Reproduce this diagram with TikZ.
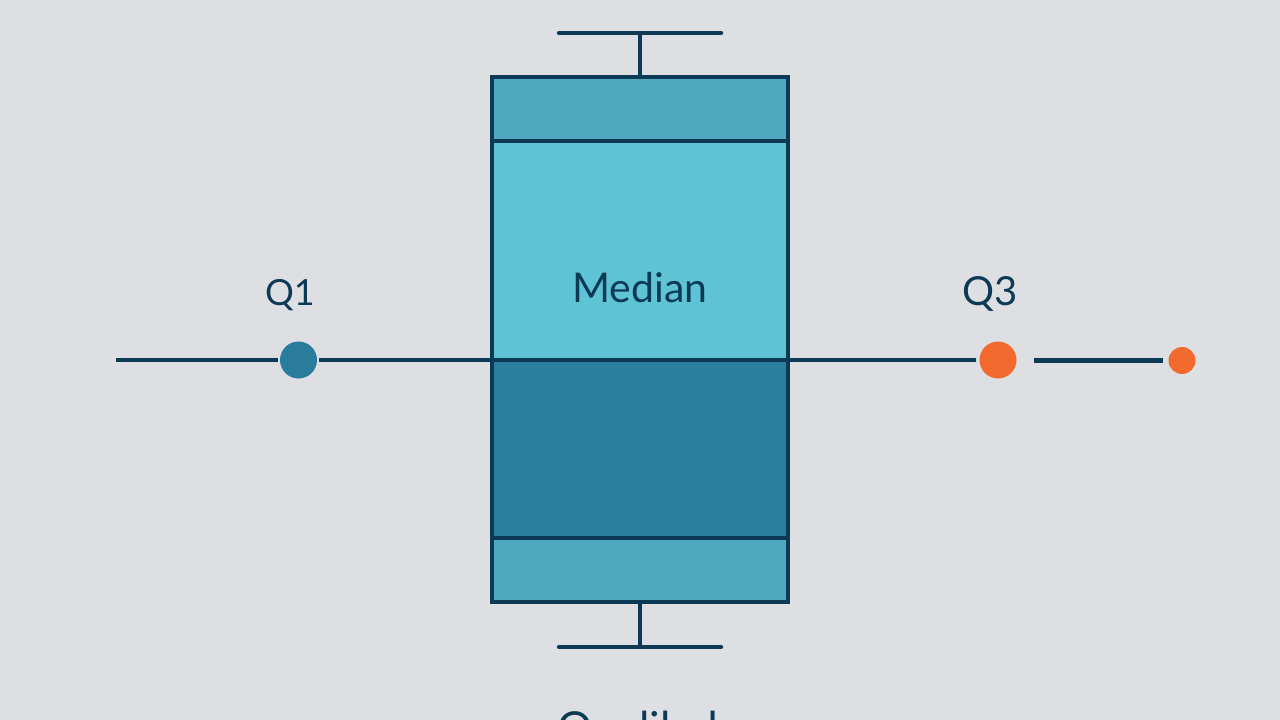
\documentclass[tikz,border=0pt]{standalone}
\usepackage{fontspec}
\setmainfont{Lato}
\definecolor{bgc}{HTML}{DEDFE3}
\definecolor{ink}{HTML}{0C3A55}
\definecolor{boxA}{HTML}{4FA8C0}
\definecolor{boxB}{HTML}{5FC3D6}
\definecolor{boxC}{HTML}{2B7F9F}
\definecolor{dotB}{HTML}{2A7C9C}
\definecolor{dotO}{HTML}{F26A2E}
\tikzset{
  conn/.style={draw=ink,line width=4.5pt},
  band/.style={inner sep=0pt,outer sep=0pt,minimum width=296pt,anchor=north west},
  lab/.style={text=ink,inner sep=0pt,anchor=base},
  dot/.style={circle,inner sep=0pt,outer sep=0pt,minimum size=#1}
}
\begin{document}
\begin{tikzpicture}[x=1pt,y=-1pt]
\useasboundingbox (0,0) rectangle (1280,720);
\clip (0,0) rectangle (1280,720);
\fill[bgc] (0,0) rectangle (1280,720);
% box bands
\node[band,fill=boxA,minimum height=64pt] (top) at (492,77) {};
\node[band,fill=boxB,minimum height=219pt] (upper) at (492,141) {};
\node[band,fill=boxC,minimum height=178pt] (lower) at (492,360) {};
\node[band,fill=boxA,minimum height=64pt] (bottom) at (492,538) {};
\draw[conn] (top.south west) -- (top.south east);
\draw[conn] (upper.south west) -- (upper.south east);
\draw[conn] (lower.south west) -- (lower.south east);
\draw[conn] (top.north west) rectangle (bottom.south east);
% whiskers
\coordinate (capTL) at (559,33); \coordinate (capTR) at (721,33);
\coordinate (capBL) at (559,647); \coordinate (capBR) at (721,647);
\coordinate (capT) at (640,33); \coordinate (capB) at (640,647);
\draw[conn,line cap=round] (capTL) -- (capTR);
\draw[conn,line cap=round] (capBL) -- (capBR);
\draw[conn] (capT) -- (top.north);
\draw[conn] (bottom.south) -- (capB);
% horizontal axis
\node[dot=37pt,fill=dotB] (q1) at (298.5,360) {};
\node[dot=37pt,fill=dotO] (q3) at (998,360) {};
\node[dot=27pt,fill=dotO] (out) at (1182,360.5) {};
\coordinate (axL) at (116,360);
\coordinate (segR) at (1034,360.5);
\draw[conn,shorten >=2pt] (axL) -- (q1.west);
\draw[conn,shorten <=2pt] (q1.east) -- (upper.south west);
\draw[conn,shorten >=4pt] (upper.south east) -- (q3.west);
\draw[conn,shorten >=6pt] (segR) -- (out.west);
% labels
\node[lab,font=\fontsize{36}{36}\selectfont] (lq1) at (290,305) {Q1};
\node[lab,font=\fontsize{40}{40}\selectfont] (lq3) at (990,305) {Q3};
\node[lab,font=\fontsize{41}{41}\selectfont] (lmed) at (640,302) {Median};
\node[lab,font=\fontsize{44}{44}\selectfont] (lqual) at (638,743) {Qualiled};
\end{tikzpicture}
\end{document}
